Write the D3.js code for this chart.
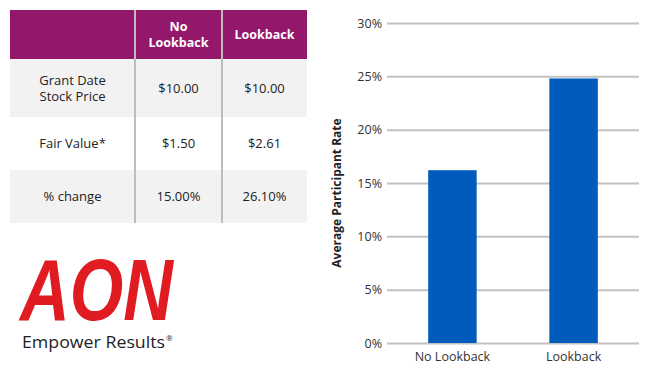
<!DOCTYPE html>
<html>
<head>
<meta charset="utf-8">
<script src="https://cdn.jsdelivr.net/npm/d3@7"></script>
<style>
  body { margin: 0; background: #fff; }
  svg { display: block; }
</style>
</head>
<body>
<div id="chart"></div>
<script>

// table data
var tableHeaders = [["No", "Lookback"], ["Lookback"]];
var rowLabels = [["Grant Date", "Stock Price"], ["Fair Value*"], ["% change"]];
var noLookbackCells = ["$10.00", "$1.50", "15.00%"];
var lookbackCells = ["$10.00", "$2.61", "26.10%"];

// bar chart data
var categories = ["No Lookback", "Lookback"];
var rates = [0.162, 0.248];
var yTicks = [0, 0.05, 0.10, 0.15, 0.20, 0.25, 0.30];

var cs = {
    purple: "#93186c",
    rowGrey: "#f2f2f2",
    divider: "#bdbdbd",
    text: "#222",
    bar: "#005bbb",
    grid: "#c2c2c2",
    red: "#e11b22"
};

var font = "'Open Sans', 'Noto Sans', sans-serif";

var svg = d3.select("#chart")
    .append("svg")
    .attr("width", 650)
    .attr("height", 373);

// ---- table ----
var table = svg.append("g");

var colX = d3.scaleOrdinal().domain([0, 1, 2]).range([10, 135, 222]);
var colW = [125, 87, 85];
var rowY = [10, 59, 117, 170];
var rowH = [49, 58, 53, 53];

table.append("rect")
    .attr("x", 10).attr("y", rowY[0])
    .attr("width", 297).attr("height", rowH[0])
    .style("fill", cs.purple);

rowLabels.forEach(function(lbl, i){
    table.append("rect")
        .attr("x", 10).attr("y", rowY[i + 1])
        .attr("width", 297).attr("height", rowH[i + 1])
        .style("fill", i == 1 ? "#fff" : cs.rowGrey);
});

// column dividers
[135, 222].forEach(function(x){
    table.append("line")
        .attr("x1", x).attr("x2", x)
        .attr("y1", 10).attr("y2", 223)
        .style("stroke", cs.divider)
        .style("stroke-width", 2);
});

var drawLines = function(lines, cx, cy, opts){
    var lh = opts.lineHeight || 16;
    var t = table.append("text")
        .attr("x", cx)
        .attr("text-anchor", "middle")
        .style("font-family", font)
        .style("font-size", opts.size + "px")
        .style("font-weight", opts.weight || "normal")
        .style("fill", opts.fill || cs.text);
    lines.forEach(function(s, i){
        t.append("tspan")
            .attr("x", cx)
            .attr("y", cy + (i - (lines.length - 1) / 2) * lh)
            .attr("dy", "0.35em")
            .text(s);
    });
};

tableHeaders.forEach(function(h, i){
    var c = i + 1;
    drawLines(h, colX(c) + colW[c] / 2, rowY[0] + rowH[0] / 2, {size: 12.5, weight: "bold", fill: "#fff", lineHeight: 16});
});

rowLabels.forEach(function(lbl, i){
    var cy = rowY[i + 1] + rowH[i + 1] / 2;
    drawLines(lbl, colX(0) + colW[0] / 2, cy, {size: 13, lineHeight: 16});
    drawLines([noLookbackCells[i]], colX(1) + colW[1] / 2, cy, {size: 13});
    drawLines([lookbackCells[i]], colX(2) + colW[2] / 2, cy, {size: 13});
});

// ---- logo ----
svg.append("text")
    .attr("x", 20)
    .attr("y", 320)
    .attr("textLength", 153)
    .attr("lengthAdjust", "spacingAndGlyphs")
    .style("font-family", "'Liberation Sans', Arial, sans-serif")
    .style("font-weight", "bold")
    .style("font-style", "italic")
    .style("font-size", "87px")
    .style("fill", cs.red)
    .text("AON");

svg.append("text")
    .attr("x", 22)
    .attr("y", 348)
    .attr("textLength", 143)
    .attr("lengthAdjust", "spacingAndGlyphs")
    .style("font-family", font)
    .style("font-size", "16px")
    .style("fill", cs.text)
    .text("Empower Results");

svg.append("text")
    .attr("x", 166)
    .attr("y", 341)
    .style("font-family", font)
    .style("font-size", "8px")
    .style("fill", cs.text)
    .text("®");

// ---- bar chart ----
var margin = {left: 387, right: 11, top: 23, bottom: 30};
var width = 650 - margin.left - margin.right;
var height = 373 - margin.top - margin.bottom;

var chart = svg.append("g")
    .attr("transform", "translate(" + margin.left + "," + margin.top + ")");

var x = d3.scaleBand()
    .domain(categories)
    .range([0, width])
    .paddingInner(0.6)
    .paddingOuter(0.34);

var y = d3.scaleLinear()
    .domain([0, 0.30])
    .range([height, 0]);

var yAxis = chart.append("g")
    .call(d3.axisLeft(y)
        .tickValues(yTicks)
        .tickSize(-width)
        .tickPadding(5)
        .tickFormat(d3.format(".0%")));

yAxis.select(".domain").remove();
yAxis.selectAll(".tick line")
    .style("stroke", cs.grid)
    .style("stroke-width", 2);
yAxis.selectAll(".tick text")
    .style("font-family", font)
    .style("font-size", "12.5px")
    .style("fill", "#333");

chart.selectAll(".bar")
    .data(rates)
    .enter()
    .append("rect")
    .attr("class", "bar")
    .attr("x", function(d, i){ return x(categories[i]); })
    .attr("width", x.bandwidth())
    .attr("y", function(d){ return y(d); })
    .attr("height", function(d){ return height - y(d); })
    .style("fill", cs.bar);

var xAxis = chart.append("g")
    .attr("transform", "translate(0," + height + ")")
    .call(d3.axisBottom(x).tickSize(0).tickPadding(9));

xAxis.select(".domain").remove();
xAxis.selectAll(".tick text")
    .style("font-family", font)
    .style("font-size", "12.5px")
    .style("fill", "#333");

chart.append("text")
    .attr("transform", "translate(" + (337 - margin.left) + "," + (height / 2 + 10) + ") rotate(-90)")
    .attr("text-anchor", "middle")
    .attr("dy", "0.35em")
    .style("font-family", font)
    .style("font-weight", "bold")
    .style("font-size", "12px")
    .style("fill", cs.text)
    .text("Average Participant Rate");

</script>
</body>
</html>
